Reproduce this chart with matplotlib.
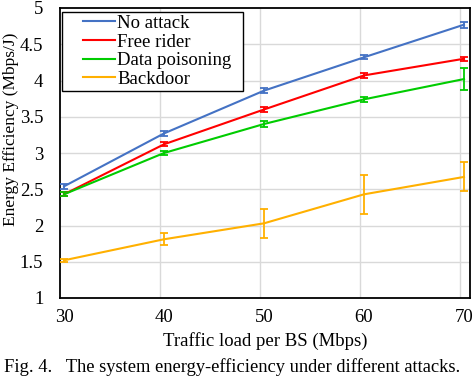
import matplotlib
matplotlib.use("Agg")
import numpy as np
import matplotlib.pyplot as plt
from matplotlib.ticker import FuncFormatter
from matplotlib.lines import Line2D
from matplotlib.legend_handler import HandlerLine2D

traffic = [30, 40, 50, 60, 70]
no_attack = [2.54, 3.27, 3.86, 4.32, 4.77]
no_attack_err = [0.03, 0.03, 0.03, 0.03, 0.04]
free_rider = [2.43, 3.12, 3.60, 4.07, 4.30]
free_rider_err = [0.03, 0.03, 0.03, 0.04, 0.03]
data_poison = [2.43, 3.00, 3.40, 3.74, 4.02]
data_poison_err = [0.03, 0.03, 0.04, 0.03, 0.15]
backdoor = [1.52, 1.81, 2.03, 2.43, 2.67]
backdoor_err = [0.02, 0.08, 0.20, 0.27, 0.20]

labels = ["No attack", "Free rider", "Data poisoning", "Backdoor"]
colors = ["#4472C4", "#FF0000", "#00CC00", "#FFB000"]

plt.rcParams['font.family'] = ['Liberation Serif', 'DejaVu Serif']
plt.rcParams['font.size'] = 13.5


class ShortHandler(HandlerLine2D):
    def create_artists(self, legend, orig_handle, xdescent, ydescent,
                       width, height, fontsize, trans):
        arts = super().create_artists(legend, orig_handle, xdescent, ydescent,
                                      width, height, fontsize, trans)
        for a in arts:
            xd = np.asarray(a.get_xdata(), dtype=float)
            if len(xd) >= 2:
                x0 = xd[0] + 0.36 * (xd[-1] - xd[0])
                a.set_xdata(np.linspace(x0, xd[-1], len(xd)))
        return arts


fig = plt.figure(figsize=(4.74, 3.77), dpi=100)
ax = fig.add_axes([60/474, 1-298/377, 410/474, 290/377])

series = [(no_attack, no_attack_err), (free_rider, free_rider_err),
          (data_poison, data_poison_err), (backdoor, backdoor_err)]
handles = []
for (vals, errs), lab, c in zip(series, labels, colors):
    ax.errorbar(traffic, vals, yerr=errs, color=c, lw=1.5, capsize=3,
                elinewidth=1.3, capthick=1.3, zorder=3)
    handles.append(Line2D([], [], color=c, lw=1.5, label=lab))

ax.set_xlim(29.6, 70.6)
ax.set_ylim(1, 5)
ax.set_xticks(traffic)
ax.set_yticks([1, 1.5, 2, 2.5, 3, 3.5, 4, 4.5, 5])
ax.yaxis.set_major_formatter(FuncFormatter(lambda v, p: f"{v:g}"))
ax.tick_params(length=0, pad=8)
ax.tick_params(axis='y', pad=12)
for y in [1.5, 2, 2.5, 3, 3.5, 4, 4.5]:
    ax.axhline(y, color='#d9d9d9', lw=1, zorder=0)
for x in [39.6, 49.6, 59.6, 69.6]:
    ax.axvline(x, color='#d9d9d9', lw=1, zorder=0)
for s in ax.spines.values():
    s.set_linewidth(1.3)
    s.set_color('black')

ax.set_xlabel("Traffic load per BS (Mbps)", labelpad=4)
ax.set_ylabel("Energy Efficiency (Mbps/J)", fontsize=12.5)
ax.yaxis.set_label_coords(-0.1, 0.58)

leg = ax.legend(handles=handles, loc='upper left',
                bbox_to_anchor=(2/410, 0, 181/410, 1-4/290), mode='expand',
                handler_map={Line2D: ShortHandler()},
                fancybox=False, edgecolor='black', framealpha=1,
                handlelength=2.7, borderpad=0.15, labelspacing=0.08,
                handletextpad=0.1, borderaxespad=0)
leg.get_frame().set_linewidth(1.0)

fig.text(0.008, 1/377, "Fig. 4.   The system energy-efficiency under different attacks.",
         va='bottom', ha='left', fontsize=13.3)

fig.savefig("out.png", dpi=100)
